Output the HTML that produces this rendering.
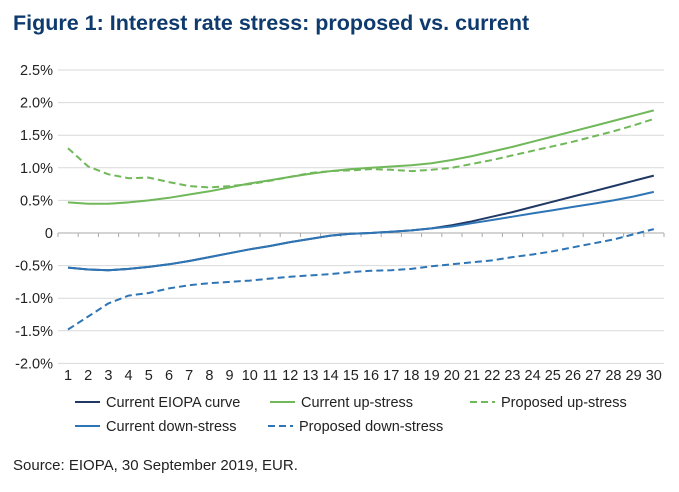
<!DOCTYPE html><html><head><style>body{margin:0;background:#fff;width:679px;height:487px;overflow:hidden;font-family:"Liberation Sans",sans-serif}</style></head><body>
<svg width="679" height="487" xmlns="http://www.w3.org/2000/svg" font-family="Liberation Sans, sans-serif">
<text x="13" y="30" font-size="21.5" font-weight="bold" fill="#0e3a6e">Figure 1: Interest rate stress: proposed vs. current</text>
<g id="g"></g>
<g font-size="14.5" fill="#222">
<line x1="75" y1="402" x2="100" y2="402" stroke="#1f3864" stroke-width="2"/><text x="106" y="407">Current EIOPA curve</text>
<line x1="270" y1="402" x2="295" y2="402" stroke="#70b85a" stroke-width="2"/><text x="301" y="407">Current up-stress</text>
<line x1="470" y1="402" x2="495" y2="402" stroke="#70b85a" stroke-width="2" stroke-dasharray="7,4"/><text x="501" y="407">Proposed up-stress</text>
<line x1="75" y1="426" x2="100" y2="426" stroke="#2e75b6" stroke-width="2"/><text x="106" y="431">Current down-stress</text>
<line x1="268" y1="426" x2="293" y2="426" stroke="#2e75b6" stroke-width="2" stroke-dasharray="7,4"/><text x="299" y="431">Proposed down-stress</text>
<text x="13" y="470" font-size="15">Source: EIOPA, 30 September 2019, EUR.</text>
</g>
</svg>
<script>
var g=document.getElementById('g'),s='';
function Y(v){return 233-v*65.2}
function X(i){return 68+(i-1)*20.2}
var labs=['2.5%','2.0%','1.5%','1.0%','0.5%','0','-0.5%','-1.0%','-1.5%','-2.0%'];
for(var k=0;k<10;k++){var v=2.5-k*0.5,y=Y(v);
if(v!=0)s+='<line x1="58" x2="664" y1="'+y+'" y2="'+y+'" stroke="#d9d9d9" stroke-width="1"/>';
s+='<text x="53" y="'+(y+5)+'" text-anchor="end" font-size="14.5" fill="#222">'+labs[k]+'</text>';}
s+='<line x1="58" x2="664" y1="233" y2="233" stroke="#aaa" stroke-width="1"/>';
for(var i=0;i<=30;i++){var x=58+i*20.2;s+='<line x1="'+x+'" x2="'+x+'" y1="233" y2="237" stroke="#aaa"/>';}
for(var i=1;i<=30;i++)s+='<text x="'+X(i)+'" y="380" text-anchor="middle" font-size="14.5" fill="#222">'+i+'</text>';
var E=[-0.53,-0.56,-0.57,-0.55,-0.52,-0.48,-0.43,-0.37,-0.31,-0.25,-0.2,-0.14,-0.09,-0.04,-0.01,0,0.02,0.04,0.07,0.12,0.18,0.25,0.32,0.4,0.48,0.56,0.64,0.72,0.8,0.88];
var D=E.slice(0,19).concat([0.1,0.15,0.2,0.25,0.3,0.35,0.4,0.45,0.5,0.56,0.63]);
var U=[0.47,0.45,0.45,0.47,0.5,0.54,0.59,0.64,0.7,0.76,0.81,0.86,0.91,0.95,0.98,1.0,1.02,1.04,1.07,1.12,1.18,1.25,1.32,1.4,1.48,1.56,1.64,1.72,1.8,1.88];
var PU=[1.3,1.02,0.9,0.84,0.85,0.78,0.72,0.7,0.72,0.75,0.8,0.86,0.92,0.95,0.96,0.98,0.97,0.95,0.97,1.0,1.06,1.12,1.19,1.26,1.33,1.4,1.48,1.56,1.65,1.75];
var PD=[-1.48,-1.28,-1.08,-0.96,-0.92,-0.85,-0.8,-0.77,-0.75,-0.73,-0.7,-0.67,-0.65,-0.63,-0.6,-0.58,-0.57,-0.55,-0.51,-0.48,-0.45,-0.42,-0.37,-0.33,-0.28,-0.22,-0.16,-0.1,-0.02,0.06];
function P(a,c,d){var p=a.map(function(v,i){return X(i+1).toFixed(1)+','+Y(v).toFixed(1)}).join(' ');
s+='<polyline points="'+p+'" fill="none" stroke="'+c+'" stroke-width="2" stroke-linejoin="round"'+(d?' stroke-dasharray="7,4"':'')+'/>';}
P(PU,'#70b85a',1);P(U,'#70b85a');P(PD,'#2e75b6',1);P(E,'#1f3864');P(D,'#2e75b6');
g.innerHTML=s;
</script>
</body></html>
